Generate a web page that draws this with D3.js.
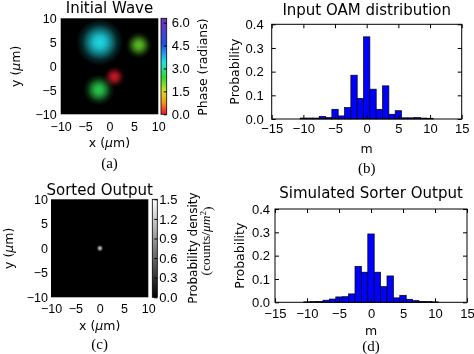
<!DOCTYPE html>
<html>
<head>
<meta charset="utf-8">
<script src="https://cdn.jsdelivr.net/npm/d3@7"></script>
<style>
  body { margin: 0; background: #fff; }
  svg { display: block; font-family: "DejaVu Sans", sans-serif; }
  .axis path.domain { display: none; }
  .axis line { stroke: #000; }
  .axis text { font-size: 13px; fill: #000; }
  .img-axis text { font-size: 12.5px; }
  .serif { font-family: "Liberation Serif", "DejaVu Serif", serif; }
</style>
</head>
<body>
<div id="chart"></div>
<script>
// ---- data ----
// (a) initial wave: gaussian spots (um), phase in radians
const blobX = [-2.0, 6.0, 1.0, -2.2];
const blobY = [5.0, 4.4, -2.2, -4.9];
const blobR = [4.8, 2.7, 2.2, 3.2];
const blobPhase = [3.5, 2.1, 0.05, 2.6];
const blobAmp = [1.0, 0.85, 0.85, 0.9];
const phaseTicks = [0, 1.5, 3.0, 4.5, 6.0];

// (c) sorted output: one small spot at the centre
const spotX = [0.05];
const spotY = [0.0];
const spotR = [0.75];
const spotDensity = [0.75];
const densityTicks = [0, 0.3, 0.6, 0.9, 1.2, 1.5];

// (b) and (d) OAM histograms
const mBins = [-10, -9, -8, -7, -6, -5, -4, -3, -2, -1, 0, 1, 2, 3, 4, 5, 6, 7, 8, 9, 10];
const inputProb = [0.004, 0.004, 0.004, 0.011, 0.006, 0.041, 0.013, 0.048, 0.185, 0.087, 0.347,
                   0.126, 0.041, 0.140, 0.020, 0.035, 0.005, 0.005, 0.006, 0.004, 0.003];
const sorterProb = [0.002, 0.003, 0.004, 0.009, 0.014, 0.023, 0.024, 0.036, 0.154, 0.129, 0.293,
                    0.129, 0.067, 0.113, 0.019, 0.030, 0.013, 0.007, 0.004, 0.003, 0.002];
const imgTicks = [-10, -5, 0, 5, 10];
const mTicks = [-15, -10, -5, 0, 5, 10, 15];
const probTicks = [0, 0.1, 0.2, 0.3, 0.4];

const W = 474, H = 354;
const svg = d3.select('#chart').append('svg').attr('width', W).attr('height', H);
const defs = svg.append('defs');

// phase colormap (red -> yellow -> green -> cyan -> blue -> violet)
const phaseColor = d3.scaleLinear()
  .domain([0, 0.75, 1.5, 2.4, 3.4, 4.6, 2 * Math.PI])
  .range(['#e8132b', '#f7931e', '#d6e021', '#2fd92f', '#1ee3e3', '#1f4fe8', '#7b2fbe']);

function rotLabel(g, text, cx, cy, size, cls) {
  return g.append('text')
    .attr('class', cls || null)
    .attr('transform', `translate(${cx},${cy}) rotate(-90)`)
    .attr('text-anchor', 'middle').attr('dy', '0.35em')
    .style('font-size', size + 'px')
    .text(text);
}

function umLabel(sel, prefix) {
  sel.append('tspan').text(prefix + ' (');
  sel.append('tspan').style('font-style', 'italic').text('μ');
  sel.append('tspan').text('m)');
}

// ---------- image panels ----------
function imagePanel(opt) {
  const x = d3.scaleLinear().domain([-10, 10]).range([opt.l, opt.r]);
  const y = d3.scaleLinear().domain([-10, 10]).range([opt.b, opt.t]);
  const g = svg.append('g');
  defs.append('clipPath').attr('id', opt.id + '-clip')
    .append('rect').attr('x', opt.l).attr('y', opt.t)
    .attr('width', opt.r - opt.l).attr('height', opt.b - opt.t);
  g.append('rect').attr('x', opt.l).attr('y', opt.t)
    .attr('width', opt.r - opt.l).attr('height', opt.b - opt.t).attr('fill', '#000');
  const spots = g.append('g').attr('clip-path', `url(#${opt.id}-clip)`).style('isolation', 'isolate');
  opt.spots.forEach((s, i) => {
    const gid = opt.id + '-g' + i;
    const grad = defs.append('radialGradient').attr('id', gid);
    [[0, 1], [0.25, 0.88], [0.5, 0.55], [0.75, 0.18], [1, 0]].forEach(([o, a]) => {
      grad.append('stop').attr('offset', o).attr('stop-color', s.color)
        .attr('stop-opacity', a * s.amp);
    });
    const rx = Math.abs(x(s.r) - x(0));
    spots.append('circle').attr('cx', x(s.x)).attr('cy', y(s.y)).attr('r', rx)
      .attr('fill', `url(#${gid})`).style('mix-blend-mode', 'screen');
  });
  g.append('g').attr('class', 'axis img-axis')
    .attr('transform', `translate(0,${opt.b})`)
    .call(d3.axisBottom(x).tickValues(imgTicks).tickSize(0).tickPadding(opt.xPad));
  g.append('g').attr('class', 'axis img-axis')
    .attr('transform', `translate(${opt.l},0)`)
    .call(d3.axisLeft(y).tickValues(imgTicks).tickSize(0).tickPadding(opt.yPad));
  g.append('text').attr('x', (opt.l + opt.r) / 2).attr('y', opt.titleY)
    .attr('text-anchor', 'middle').style('font-size', '15px').text(opt.title);
  umLabel(g.append('text').attr('x', (opt.l + opt.r) / 2).attr('y', opt.xLabY)
    .attr('text-anchor', 'middle').style('font-size', '12.5px'), 'x');
  umLabel(g.append('text')
    .attr('transform', `translate(${opt.yLabX},${(opt.t + opt.b) / 2}) rotate(-90)`)
    .attr('text-anchor', 'middle').attr('dy', '0.35em').style('font-size', '12.5px'), 'y');
  g.append('text').attr('class', 'serif').attr('x', (opt.l + opt.r) / 2).attr('y', opt.capY)
    .attr('text-anchor', 'middle').style('font-size', '15px').text(opt.cap);

  // colorbar
  const cb = opt.cbar;
  const cy = d3.scaleLinear().domain(cb.domain).range([opt.b, opt.t]);
  const lg = defs.append('linearGradient').attr('id', opt.id + '-cb')
    .attr('x1', 0).attr('y1', 1).attr('x2', 0).attr('y2', 0);
  cb.stops.forEach(v => {
    lg.append('stop').attr('offset', (v - cb.domain[0]) / (cb.domain[1] - cb.domain[0]))
      .attr('stop-color', cb.color(v));
  });
  g.append('rect').attr('x', cb.x).attr('y', opt.t).attr('width', cb.w).attr('height', opt.b - opt.t)
    .attr('fill', `url(#${opt.id}-cb)`).attr('stroke', '#000').attr('stroke-width', 0.8);
  g.append('g').attr('class', 'axis')
    .attr('transform', `translate(${cb.x + cb.w},0)`)
    .call(d3.axisRight(cy).tickValues(cb.ticks).tickFormat(d3.format('.1f'))
      .tickSizeInner(-3).tickSizeOuter(0).tickPadding(cb.pad));
  return g;
}

const gA = imagePanel({
  id: 'a', l: 60.7, r: 158.3, t: 18.3, b: 114.3,
  title: 'Initial Wave', titleY: 13, xLabY: 147, yLabX: 16, capY: 168, cap: '(a)',
  xPad: 8, yPad: 4,
  spots: blobX.map((d, i) => ({ x: d, y: blobY[i], r: blobR[i], amp: blobAmp[i], color: phaseColor(blobPhase[i]) })),
  cbar: { x: 161, w: 5.7, domain: [0, 2 * Math.PI], ticks: phaseTicks, pad: 5,
          color: phaseColor, stops: phaseColor.domain() }
});
rotLabel(gA, 'Phase (radians)', 203, 67, 12.5);

const grey = d3.scaleLinear().domain([0, 1.5]).range(['#000', '#fff']);
const gC = imagePanel({
  id: 'c', l: 51, r: 148.3, t: 199.3, b: 297.3,
  title: 'Sorted Output', titleY: 195.3, xLabY: 330, yLabX: 9, capY: 349, cap: '(c)',
  xPad: 7, yPad: 3,
  spots: spotX.map((d, i) => ({ x: d, y: spotY[i], r: spotR[i], amp: spotDensity[i], color: '#fff' })),
  cbar: { x: 152.3, w: 5, domain: [0, 1.5], ticks: densityTicks, pad: 2,
          color: grey, stops: [0, 1.5] }
});
rotLabel(gC, 'Probability density', 193, 248, 12);
const cl = gC.append('text').attr('class', 'serif')
  .attr('transform', 'translate(205,241) rotate(-90)')
  .attr('text-anchor', 'middle').attr('dy', '0.35em').style('font-size', '13.5px');
cl.append('tspan').text('(counts/');
cl.append('tspan').style('font-style', 'italic').text('μ');
cl.append('tspan').style('font-style', 'italic').text('m');
cl.append('tspan').attr('dy', '-0.4em').style('font-size', '9px').text('2');
cl.append('tspan').attr('dy', '0.4em').text(')');

// ---------- histogram panels ----------
function histPanel(opt) {
  const x = d3.scaleLinear().domain([-15, 15]).range([opt.l, opt.r]);
  const y = d3.scaleLinear().domain([0, 0.4]).range([opt.b, opt.t]);
  const g = svg.append('g');
  g.append('g').selectAll('rect').data(mBins).join('rect')
    .attr('x', d => x(d - 0.5))
    .attr('y', (d, i) => y(opt.values[i]))
    .attr('width', d => x(d + 0.5) - x(d - 0.5))
    .attr('height', (d, i) => y(0) - y(opt.values[i]))
    .attr('fill', '#0000ff').attr('stroke', '#000').attr('stroke-width', 0.7);
  const tick = 4;
  g.append('g').attr('class', 'axis').attr('transform', `translate(0,${opt.b})`)
    .call(d3.axisBottom(x).tickValues(mTicks).tickSizeInner(-tick).tickSizeOuter(0).tickPadding(opt.xPad));
  g.append('g').attr('class', 'axis').attr('transform', `translate(0,${opt.t})`)
    .call(d3.axisTop(x).tickValues(mTicks).tickFormat('').tickSizeInner(-tick).tickSizeOuter(0));
  g.append('g').attr('class', 'axis').attr('transform', `translate(${opt.l},0)`)
    .call(d3.axisLeft(y).tickValues(probTicks).tickFormat(d3.format('.1f'))
      .tickSizeInner(-tick).tickSizeOuter(0).tickPadding(opt.yPad));
  g.append('g').attr('class', 'axis').attr('transform', `translate(${opt.r},0)`)
    .call(d3.axisRight(y).tickValues(probTicks).tickFormat('').tickSizeInner(-tick).tickSizeOuter(0));
  g.append('rect').attr('x', opt.l).attr('y', opt.t)
    .attr('width', opt.r - opt.l).attr('height', opt.b - opt.t)
    .attr('fill', 'none').attr('stroke', '#000').attr('stroke-width', 1);
  g.append('text').attr('x', x(0)).attr('y', opt.titleY)
    .attr('text-anchor', 'middle').style('font-size', '15px').text(opt.title);
  g.append('text').attr('x', x(0)).attr('y', opt.xLabY)
    .attr('text-anchor', 'middle').style('font-size', '12.5px').text('m');
  rotLabel(g, 'Probability', opt.yLabX, (opt.t + opt.b) / 2, 12.5);
  g.append('text').attr('class', 'serif').attr('x', x(0)).attr('y', opt.capY)
    .attr('text-anchor', 'middle').style('font-size', '15px').text(opt.cap);
}

histPanel({ l: 271.7, r: 461.7, t: 24.3, b: 119, values: inputProb,
  title: 'Input OAM distribution', titleY: 15, xLabY: 152.5, yLabX: 235, capY: 173, cap: '(b)',
  xPad: 4.5, yPad: 8 });
histPanel({ l: 275, r: 467, t: 209, b: 302.3, values: sorterProb,
  title: 'Simulated Sorter Output', titleY: 197.7, xLabY: 335, yLabX: 240, capY: 350.5, cap: '(d)',
  xPad: 6, yPad: 5 });
</script>
</body>
</html>
